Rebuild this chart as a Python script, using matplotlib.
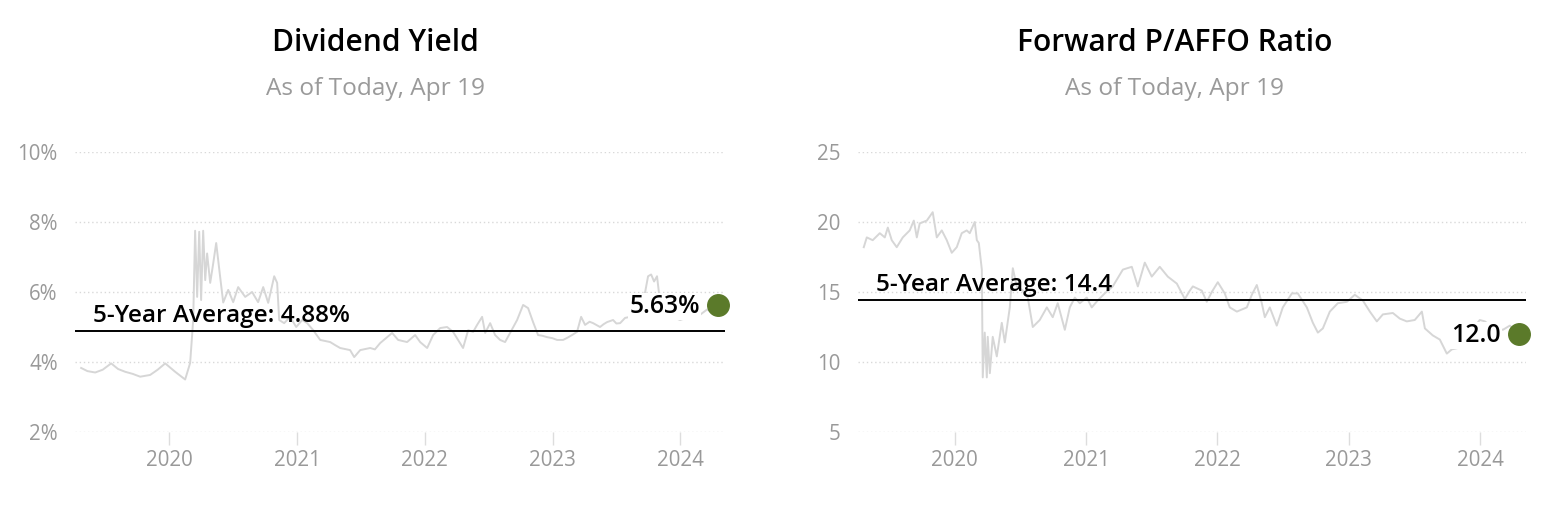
"""Dividend yield and forward P/AFFO history, two side-by-side panels."""

import matplotlib
matplotlib.use("Agg")
import matplotlib.pyplot as plt

plt.rcParams["font.family"] = ["Open Sans", "DejaVu Sans"]

# dividend yield (%), decimal years
YIELD_T = [
    2019.311, 2019.360, 2019.421, 2019.480, 2019.546, 2019.600, 2019.656, 2019.715,
    2019.773, 2019.851, 2019.910, 2019.969, 2020.047,
    2020.125, 2020.164, 2020.188, 2020.203, 2020.219, 2020.235, 2020.250, 2020.266,
    2020.282, 2020.297, 2020.321, 2020.344, 2020.368, 2020.399, 2020.423, 2020.462,
    2020.501, 2020.540, 2020.595, 2020.649, 2020.696, 2020.736, 2020.775, 2020.822,
    2020.845, 2020.861, 2020.900, 2020.947, 2020.994, 2021.041, 2021.080, 2021.127,
    2021.182, 2021.260, 2021.300, 2021.338, 2021.416, 2021.448, 2021.495, 2021.573,
    2021.610, 2021.651, 2021.745, 2021.792, 2021.862, 2021.925, 2021.964, 2022.019,
    2022.066, 2022.121, 2022.175, 2022.222, 2022.261, 2022.300, 2022.340, 2022.379,
    2022.410, 2022.449, 2022.473, 2022.512, 2022.551, 2022.590, 2022.629, 2022.668,
    2022.723, 2022.770, 2022.809, 2022.848, 2022.887, 2022.920, 2022.958, 2023.000,
    2023.036, 2023.083, 2023.120, 2023.153, 2023.192, 2023.224, 2023.255, 2023.290,
    2023.318, 2023.372, 2023.400, 2023.427, 2023.474, 2023.500, 2023.529, 2023.568,
    2023.623, 2023.685, 2023.725, 2023.748, 2023.772, 2023.795, 2023.818, 2023.834,
    2023.881, 2023.936, 2023.998, 2024.038, 2024.092, 2024.155, 2024.210, 2024.257,
    2024.297,
]
YIELD_V = [
    3.83, 3.74, 3.70, 3.78, 3.96, 3.80, 3.72, 3.66,
    3.58, 3.63, 3.78, 3.96, 3.72,
    3.50, 3.97, 5.20, 7.75, 5.86, 7.72, 5.77, 7.75,
    6.34, 7.10, 6.26, 6.80, 7.40, 6.43, 5.70, 6.06,
    5.71, 6.14, 5.86, 6.00, 5.71, 6.14, 5.69, 6.45,
    6.26, 5.20, 5.11, 5.29, 5.00, 5.20, 5.11, 4.91,
    4.63, 4.57, 4.48, 4.40, 4.34, 4.14, 4.34, 4.40,
    4.36, 4.54, 4.83, 4.63, 4.57, 4.77, 4.57, 4.40,
    4.77, 4.97, 5.00, 4.86, 4.63, 4.40, 4.91, 4.86,
    5.06, 5.29, 4.83, 5.11, 4.77, 4.63, 4.57, 4.83,
    5.20, 5.63, 5.54, 5.14, 4.77, 4.75, 4.71, 4.68,
    4.63, 4.63, 4.70, 4.77, 4.86, 5.29, 5.06, 5.15,
    5.11, 5.00, 5.08, 5.14, 5.20, 5.10, 5.11, 5.26,
    5.30, 5.50, 6.00, 6.45, 6.50, 6.30, 6.45, 5.95,
    5.40, 5.30, 5.20, 5.25, 5.40, 5.35, 5.50, 5.40,
    5.63,
]
YIELD_AVG = 4.88

# forward P/AFFO, decimal years
PAFFO_T = [
    2019.307, 2019.330, 2019.375, 2019.429, 2019.467, 2019.490, 2019.520, 2019.558,
    2019.604, 2019.657, 2019.688, 2019.711, 2019.733, 2019.787, 2019.832, 2019.863,
    2019.901, 2019.939, 2019.977, 2020.015, 2020.053, 2020.091, 2020.114, 2020.152,
    2020.168, 2020.183, 2020.206, 2020.213, 2020.228, 2020.244, 2020.251, 2020.267,
    2020.289, 2020.320, 2020.358, 2020.381, 2020.419, 2020.442, 2020.472, 2020.518,
    2020.556, 2020.594, 2020.647, 2020.701, 2020.746, 2020.784, 2020.838, 2020.876,
    2020.914, 2020.952, 2021.005, 2021.043, 2021.089, 2021.142, 2021.203, 2021.280,
    2021.348, 2021.394, 2021.447, 2021.500, 2021.561, 2021.622, 2021.691, 2021.752,
    2021.790, 2021.813, 2021.881, 2021.919, 2021.957, 2022.003, 2022.056, 2022.094,
    2022.148, 2022.224, 2022.262, 2022.300, 2022.338, 2022.361, 2022.399, 2022.452,
    2022.498, 2022.567, 2022.612, 2022.681, 2022.727, 2022.765, 2022.803, 2022.856,
    2022.917, 2022.986, 2023.046, 2023.107, 2023.161, 2023.214, 2023.260, 2023.336,
    2023.389, 2023.442, 2023.503, 2023.557, 2023.580, 2023.640, 2023.694, 2023.747,
    2023.785, 2023.831, 2023.884, 2023.938, 2023.998, 2024.037, 2024.090, 2024.174,
    2024.227, 2024.296,
]
PAFFO_V = [
    18.2, 18.9, 18.7, 19.2, 18.9, 19.6, 18.7, 18.2,
    18.9, 19.4, 20.1, 18.9, 19.9, 20.1, 20.7, 18.9,
    19.4, 18.7, 17.8, 18.2, 19.2, 19.4, 19.2, 20.0,
    18.7, 18.5, 16.6, 8.9, 12.1, 8.9, 11.8, 9.2,
    11.8, 10.4, 12.8, 11.4, 13.9, 16.7, 15.4, 15.1,
    14.6, 12.5, 13.0, 13.9, 13.2, 14.2, 12.3, 13.9,
    14.6, 14.2, 14.6, 13.9, 14.4, 14.9, 15.4, 16.6,
    16.8, 15.4, 17.1, 16.1, 16.8, 16.1, 15.6, 14.5,
    15.1, 15.4, 15.1, 14.3, 15.0, 15.7, 14.9, 13.9,
    13.6, 13.9, 14.8, 15.5, 14.2, 13.2, 13.9, 12.6,
    13.9, 14.9, 14.9, 13.9, 12.8, 12.1, 12.4, 13.6,
    14.2, 14.3, 14.8, 14.4, 13.6, 12.9, 13.4, 13.5,
    13.1, 12.9, 13.0, 13.6, 12.4, 11.9, 11.6, 10.6,
    10.9, 11.0, 11.3, 12.3, 13.0, 12.9, 12.5, 12.3,
    12.6, 12.0,
]
PAFFO_AVG = 14.4

YEARS = [2020, 2021, 2022, 2023, 2024]

W, H = 1558, 524
GRID = "#d9d9d9"
SERIES = "#d6d6d6"
TICK_TXT = "#999999"
DOT = "#5b7a2a"


def px_axes(fig, x0, x1, ytop, ybot):
    return fig.add_axes([x0 / W, 1 - ybot / H, (x1 - x0) / W, (ybot - ytop) / H])


def panel(fig, ax, t, v, avg, ylim, yticks, yfmt, avg_txt, last_txt, cx, title):
    ax.plot(t, v, color=SERIES, lw=1.4, zorder=2)
    ax.axhline(avg, color="black", lw=1.4, zorder=3)

    ax.set_xlim(2019.263, 2024.350)
    ax.set_ylim(*ylim)
    ax.set_yticks(yticks)
    ax.set_yticklabels([yfmt(y) for y in yticks])
    ax.set_xticks(YEARS)
    ax.set_xticklabels([str(y) for y in YEARS])
    ax.grid(axis="y", color=GRID, lw=1, ls=(0, (1, 2)))
    ax.set_axisbelow(True)
    for s in ax.spines.values():
        s.set_visible(False)
    ax.tick_params(axis="y", length=0, pad=12.5, labelsize=14.8, labelcolor=TICK_TXT)
    ax.tick_params(axis="x", length=9, width=1, color="#dddddd", pad=4,
                   labelsize=14.8, labelcolor=TICK_TXT)

    ax.annotate(avg_txt, (2019.263, avg), xytext=(13, 6.5), textcoords="offset points",
                fontsize=17.6, fontweight="semibold", va="baseline", ha="left", zorder=4)
    ax.plot(t[-1], v[-1], "o", ms=15.5, color=DOT, zorder=6, clip_on=False)
    ax.annotate(last_txt, (t[-1], v[-1]), xytext=(-13, -1), textcoords="offset points",
                fontsize=17.8, fontweight="semibold", va="center", ha="right", zorder=5,
                bbox=dict(boxstyle="square,pad=0.05", fc="white", ec="none"))

    fig.text(cx / W, 1 - 50.7 / H, title, ha="center", va="baseline",
             fontsize=21.5, fontweight="semibold")
    fig.text(cx / W, 1 - 95 / H, "As of Today, Apr 19", ha="center", va="baseline",
             fontsize=17.6, color="#9a9a9a")


fig = plt.figure(figsize=(W / 100, H / 100), dpi=100)

ax1 = px_axes(fig, 75, 725, 152, 432)
panel(fig, ax1, YIELD_T, YIELD_V, YIELD_AVG, (2, 10), [2, 4, 6, 8, 10],
      lambda y: f"{y}%", f"5-Year Average: {YIELD_AVG:.2f}%", "5.63%", 375.5,
      "Dividend Yield")

ax2 = px_axes(fig, 858, 1526, 152, 432)
panel(fig, ax2, PAFFO_T, PAFFO_V, PAFFO_AVG, (5, 25), [5, 10, 15, 20, 25],
      lambda y: f"{y}", f"5-Year Average: {PAFFO_AVG}", "12.0", 1174.5,
      "Forward P/AFFO Ratio")

fig.savefig("out.png", dpi=100, facecolor="white")
